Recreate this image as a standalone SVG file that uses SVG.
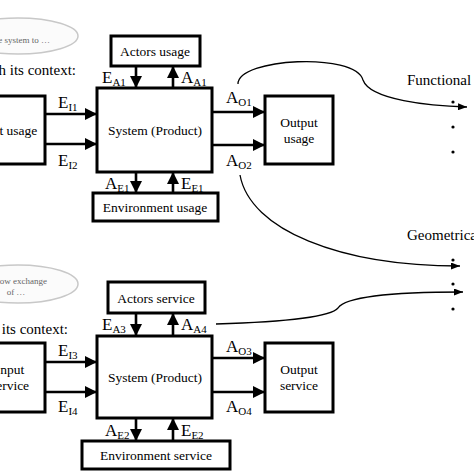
<svg xmlns="http://www.w3.org/2000/svg" width="474" height="474" viewBox="0 0 474 474">
<style>
.box{fill:#fff;stroke:#000;stroke-width:3}
.t{font-family:"Liberation Serif","Times New Roman",serif;font-size:13.5px;fill:#000}
.ctx{font-family:"Liberation Serif","Times New Roman",serif;font-size:15px;fill:#000}
.lbl{font-family:"Liberation Serif","Times New Roman",serif;font-size:17px;fill:#000}
.sub{font-size:11px}
.bub{fill:#fbfbfb;stroke:#c8c8c8;stroke-width:1.5}
.bt{font-family:"Liberation Serif","Times New Roman",serif;font-size:9px;fill:#666}
.arr{fill:none;stroke:#000;stroke-width:2.6;marker-end:url(#ah)}
.cur{fill:none;stroke:#000;stroke-width:1.3;marker-end:url(#sm)}
.dot{fill:#000}
</style>
<defs>
<marker id="ah" viewBox="0 0 12 12" refX="12" refY="6" markerWidth="12" markerHeight="12" markerUnits="userSpaceOnUse" orient="auto"><path d="M0,0 L12,6 L0,12 z" fill="#000"/></marker>
<marker id="sm" viewBox="0 0 9 7" refX="9" refY="3.5" markerWidth="9" markerHeight="7" markerUnits="userSpaceOnUse" orient="auto"><path d="M0,0 L9,3.5 L0,7 z" fill="#000"/></marker>
</defs>
<rect width="474" height="474" fill="#fff"/>

<!-- Top section -->
<g id="bubble-top"><ellipse class="bub" cx="18" cy="36" rx="60" ry="18"/><text class="bt" x="50" y="43" text-anchor="end">the system to …</text></g>
<g id="context-top"><text class="ctx" x="76" y="75" text-anchor="end">with its context:</text></g>
<g id="input-usage"><rect class="box" x="-30" y="96" width="75" height="68"/><text class="t" x="6" y="135" text-anchor="middle">Input usage</text></g>
<g id="system-top"><rect class="box" x="97" y="88" width="115" height="84"/><text class="t" x="155" y="135" text-anchor="middle">System (Product)</text></g>
<g id="actors-usage"><rect class="box" x="111" y="36" width="89" height="30"/><text class="t" x="155" y="56" text-anchor="middle">Actors usage</text></g>
<g id="env-usage"><rect class="box" x="93" y="193" width="125" height="28"/><text class="t" x="155" y="212" text-anchor="middle">Environment usage</text></g>
<g id="output-usage"><rect class="box" x="265" y="96" width="68" height="68"/><text class="t" x="299" y="127" text-anchor="middle">Output</text><text class="t" x="299" y="143" text-anchor="middle">usage</text></g>
<g id="functional"><text class="lbl" x="407" y="85" style="font-size:15px">Functional</text><circle class="dot" cx="453" cy="102" r="1.6"/><circle class="dot" cx="453" cy="127" r="1.6"/><circle class="dot" cx="453" cy="152" r="1.6"/></g>

<!-- Bottom section -->
<g id="bubble-bottom"><ellipse class="bub" cx="18" cy="284" rx="60" ry="19"/><text class="bt" x="47" y="284" text-anchor="end">llow exchange</text><text class="bt" x="16" y="295" text-anchor="middle">of …</text></g>
<g id="context-bottom"><text class="ctx" x="68" y="334" text-anchor="end">with its context:</text></g>
<g id="input-service"><rect class="box" x="-25" y="343" width="70" height="69"/><text class="t" x="10" y="374" text-anchor="middle">Input</text><text class="t" x="10" y="390" text-anchor="middle">service</text></g>
<g id="system-bottom"><rect class="box" x="97" y="336" width="115" height="82"/><text class="t" x="155" y="382" text-anchor="middle">System (Product)</text></g>
<g id="actors-service"><rect class="box" x="108" y="282" width="97" height="31"/><text class="t" x="156" y="303" text-anchor="middle">Actors service</text></g>
<g id="env-service"><rect class="box" x="82" y="441" width="148" height="28"/><text class="t" x="156" y="460" text-anchor="middle">Environment service</text></g>
<g id="output-service"><rect class="box" x="265" y="343" width="68" height="69"/><text class="t" x="299" y="374" text-anchor="middle">Output</text><text class="t" x="299" y="390" text-anchor="middle">service</text></g>
<g id="geometrical"><text class="lbl" x="407" y="240" style="font-size:15px">Geometrical</text><circle class="dot" cx="453" cy="260" r="1.6"/><circle class="dot" cx="453" cy="284" r="1.6"/><circle class="dot" cx="453" cy="309" r="1.6"/></g>

<g id="connectors">
<!-- top -->
<path class="arr" d="M136,66 V88"/>
<path class="arr" d="M173,88 V66"/>
<path class="arr" d="M45,114 H97"/>
<path class="arr" d="M45,144 H97"/>
<path class="arr" d="M136,172 V193"/>
<path class="arr" d="M173,193 V172"/>
<path class="arr" d="M212,112 H265"/>
<path class="arr" d="M212,145 H265"/>
<path class="cur" d="M238,84 C238,58 355,52 363,80 C370,100 430,106 467,107"/>
<path class="cur" d="M240,175 C250,230 340,266 460,266"/>
<!-- bottom -->
<path class="arr" d="M136,313 V336"/>
<path class="arr" d="M173,336 V313"/>
<path class="arr" d="M45,362 H97"/>
<path class="arr" d="M45,392 H97"/>
<path class="arr" d="M136,418 V441"/>
<path class="arr" d="M173,441 V418"/>
<path class="arr" d="M212,358 H265"/>
<path class="arr" d="M212,392 H265"/>
<path class="cur" d="M216,324 C280,322 330,318 338,308 C346,296 400,292 463,292"/>
</g>

<g id="connector-labels">
<text class="lbl" x="102" y="83">E<tspan class="sub" dy="3">A1</tspan></text>
<text class="lbl" x="181" y="83">A<tspan class="sub" dy="3">A1</tspan></text>
<text class="lbl" x="58" y="108">E<tspan class="sub" dy="3">I1</tspan></text>
<text class="lbl" x="58" y="166">E<tspan class="sub" dy="3">I2</tspan></text>
<text class="lbl" x="105" y="189">A<tspan class="sub" dy="3">E1</tspan></text>
<text class="lbl" x="181" y="189">E<tspan class="sub" dy="3">E1</tspan></text>
<text class="lbl" x="226" y="103">A<tspan class="sub" dy="3">O1</tspan></text>
<text class="lbl" x="226" y="166">A<tspan class="sub" dy="3">O2</tspan></text>
<text class="lbl" x="102" y="330">E<tspan class="sub" dy="3">A3</tspan></text>
<text class="lbl" x="181" y="330">A<tspan class="sub" dy="3">A4</tspan></text>
<text class="lbl" x="58" y="356">E<tspan class="sub" dy="3">I3</tspan></text>
<text class="lbl" x="58" y="412">E<tspan class="sub" dy="3">I4</tspan></text>
<text class="lbl" x="105" y="436">A<tspan class="sub" dy="3">E2</tspan></text>
<text class="lbl" x="181" y="436">E<tspan class="sub" dy="3">E2</tspan></text>
<text class="lbl" x="226" y="352">A<tspan class="sub" dy="3">O3</tspan></text>
<text class="lbl" x="226" y="412">A<tspan class="sub" dy="3">O4</tspan></text>
</g>
</svg>
